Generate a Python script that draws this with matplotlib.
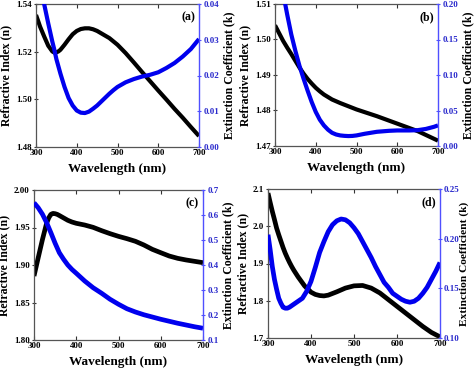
import matplotlib
matplotlib.use("Agg")
import matplotlib.pyplot as plt

plt.rcParams['font.family'] = ['Liberation Serif', 'DejaVu Serif']
plt.rcParams['font.weight'] = 'bold'

# ---------------- data ----------------
# Panel (a)
a_n_wl = [300, 305, 310, 320, 330, 340, 345, 350, 355, 360, 370, 380, 390, 400, 410, 420, 430, 440,
          450, 460, 480, 500, 520, 540, 560, 580, 600, 620, 640, 660, 680, 700]
a_n = [1.5354, 1.5330, 1.5305, 1.5264, 1.5225, 1.5201, 1.5196, 1.5197, 1.5201, 1.5208, 1.5229,
       1.5252, 1.5273, 1.5287, 1.5295, 1.5298, 1.5298, 1.5294, 1.5287, 1.5277, 1.5257, 1.5229,
       1.5194, 1.5155, 1.5115, 1.5076, 1.5037, 1.4999, 1.4960, 1.4923, 1.4884, 1.4846]
a_k_wl = [315, 320, 330, 340, 345, 350, 360, 370, 380, 390, 400, 410, 420, 430, 440, 450, 460, 470,
          480, 490, 500, 520, 540, 560, 580, 600, 620, 640, 660, 680, 700]
a_k = [0.0445, 0.0400, 0.0346, 0.0295, 0.0272, 0.0246, 0.0205, 0.0168, 0.0137, 0.0116, 0.0102,
       0.0096, 0.0095, 0.0099, 0.0107, 0.0116, 0.0127, 0.0138, 0.0149, 0.0159, 0.0168, 0.0181,
       0.0190, 0.0197, 0.0202, 0.0209, 0.0221, 0.0235, 0.0253, 0.0274, 0.0302]

# Panel (b)
b_n_wl = [300, 310, 320, 330, 340, 350, 360, 370, 380, 390, 400, 410, 420, 430, 440, 460, 480, 500,
          550, 600, 650, 700]
b_n = [1.5040, 1.5018, 1.4996, 1.4977, 1.4959, 1.4940, 1.4921, 1.4904, 1.4889, 1.4876, 1.4864,
       1.4854, 1.4845, 1.4838, 1.4831, 1.4821, 1.4812, 1.4803, 1.4784, 1.4763, 1.4742, 1.4715]
b_k_wl = [320, 325, 330, 340, 350, 360, 370, 380, 390, 400, 410, 420, 430, 440, 450, 460, 470, 480,
          490, 500, 520, 550, 580, 600, 630, 650, 670, 690, 700]
b_k = [0.215, 0.200, 0.185, 0.157, 0.134, 0.113, 0.095, 0.078, 0.062, 0.048, 0.037, 0.029, 0.023,
       0.0186, 0.0162, 0.0149, 0.0143, 0.0140, 0.0142, 0.0149, 0.0172, 0.0200, 0.0214, 0.0219,
       0.0219, 0.0223, 0.0240, 0.0270, 0.0290]

# Panel (c)
c_wl = [300, 310, 320, 330, 335, 340, 345, 350, 355, 360, 370, 380, 390, 400, 420, 440, 460, 480,
        500, 520, 540, 560, 580, 600, 620, 640, 660, 680, 700]
c_n = [1.8853, 1.9098, 1.9340, 1.9560, 1.9630, 1.9676, 1.9688, 1.9684, 1.9675, 1.9660, 1.9628,
       1.9596, 1.9573, 1.9556, 1.9533, 1.9502, 1.9458, 1.9418, 1.9382, 1.9351, 1.9316, 1.9267,
       1.9209, 1.9164, 1.9120, 1.9089, 1.9067, 1.9049, 1.9031]
c_k_wl = [300, 310, 320, 330, 340, 350, 360, 370, 380, 390, 400, 420, 440, 460, 480, 500, 520, 540,
          560, 580, 600, 620, 640, 660, 680, 700]
c_k = [0.649, 0.629, 0.603, 0.569, 0.529, 0.487, 0.449, 0.423, 0.400, 0.382, 0.367, 0.336, 0.309,
       0.287, 0.263, 0.243, 0.225, 0.212, 0.201, 0.192, 0.183, 0.175, 0.167, 0.160, 0.153, 0.147]

# Panel (d)
d_n_wl = [300, 305, 310, 315, 320, 325, 330, 335, 340, 345, 350, 355, 360, 365, 370, 375, 380, 385,
          390, 395, 400, 410, 420, 430, 440, 460, 480, 500, 520, 540, 560, 580, 600, 620, 640, 660,
          680, 700]
d_n = [2.089, 2.064, 2.040, 2.018, 1.995, 1.977, 1.960, 1.943, 1.928, 1.915, 1.903, 1.892, 1.882,
       1.873, 1.864, 1.856, 1.848, 1.840, 1.834, 1.829, 1.823, 1.817, 1.814, 1.813, 1.815, 1.824,
       1.834, 1.840, 1.841, 1.834, 1.821, 1.803, 1.785, 1.767, 1.749, 1.731, 1.715, 1.703]
d_k_wl = [300, 305, 310, 315, 320, 325, 330, 335, 340, 345, 350, 360, 370, 380, 390, 400, 410, 420,
          430, 440, 450, 460, 470, 480, 490, 500, 510, 520, 530, 540, 550, 560, 570, 580, 590, 600,
          610, 620, 630, 640, 650, 660, 670, 680, 690, 700]
d_k = [0.204, 0.189, 0.172, 0.159, 0.149, 0.140, 0.135, 0.131, 0.130, 0.130, 0.131, 0.134, 0.137,
       0.140, 0.147, 0.157, 0.171, 0.186, 0.197, 0.207, 0.214, 0.218, 0.2198, 0.219, 0.216, 0.211,
       0.205, 0.197, 0.189, 0.181, 0.172, 0.164, 0.156, 0.151, 0.145, 0.142, 0.139, 0.137, 0.136,
       0.137, 0.140, 0.145, 0.151, 0.159, 0.167, 0.176]

panels = [
    dict(tag='(a)', nwl=a_n_wl, n=a_n, kwl=a_k_wl, k=a_k, nlim=(1.48, 1.54), nticks=[1.48, 1.50, 1.52, 1.54],
         nfmt='%.2f', klim=(0.0, 0.04), kticks=[0.00, 0.01, 0.02, 0.03, 0.04], kfmt='%.2f',
         rect=[36/474, 1-147/372, 163/474, 143/372]),
    dict(tag='(b)', nwl=b_n_wl, n=b_n, kwl=b_k_wl, k=b_k, nlim=(1.47, 1.51),
         nticks=[1.47, 1.48, 1.49, 1.50, 1.51], nfmt='%.2f', klim=(0.0, 0.20),
         kticks=[0.00, 0.05, 0.10, 0.15, 0.20], kfmt='%.2f',
         rect=[275/474, 1-146/372, 163/474, 142/372]),
    dict(tag='(c)', nwl=c_wl, n=c_n, kwl=c_k_wl, k=c_k, nlim=(1.80, 2.00),
         nticks=[1.80, 1.85, 1.90, 1.95, 2.00], nfmt='%.2f', klim=(0.1, 0.7),
         kticks=[0.1, 0.2, 0.3, 0.4, 0.5, 0.6, 0.7], kfmt='%.1f',
         rect=[34/474, 1-340/372, 169/474, 150/372]),
    dict(tag='(d)', nwl=d_n_wl, n=d_n, kwl=d_k_wl, k=d_k, nlim=(1.7, 2.1),
         nticks=[1.7, 1.8, 1.9, 2.0, 2.1], nfmt='%.1f', klim=(0.10, 0.25),
         kticks=[0.10, 0.15, 0.20, 0.25], kfmt='%.2f',
         rect=[268/474, 1-338/372, 172/474, 149/372]),
]

xticks = [300, 400, 500, 600, 700]
BLUE = '#0000ee'
AXBLUE = '#5050ff'
TICKBLUE = '#2a2acc'

fig = plt.figure(figsize=(4.74, 3.72), dpi=100)
for i, p in enumerate(panels):
    ax = fig.add_axes(p['rect'])
    lw = 3.0 if i < 2 else 3.4
    ax.plot(p['nwl'], p['n'], color='black', lw=lw, solid_capstyle='butt', solid_joinstyle='round')
    ax.set_xlim(300, 700)
    ax.set_ylim(*p['nlim'])
    ax.set_xticks(xticks)
    ax.set_yticks(p['nticks'])
    ax.yaxis.set_major_formatter(matplotlib.ticker.FormatStrFormatter(p['nfmt']))
    ax.tick_params(axis='both', labelsize=6.5, length=3, width=0.8, direction='inout', pad=1.5,
                   colors='#333333', labelcolor='black')
    ax.tick_params(axis='x', top=True, direction='in')
    for s in ['left', 'bottom', 'top']:
        ax.spines[s].set_color('#555555')
        ax.spines[s].set_linewidth(0.9)
    ax.spines['right'].set_visible(False)
    ax.set_xlabel('Wavelength (nm)', fontsize=9.5, fontweight='bold', labelpad=4)
    ax.set_ylabel('Refractive Index (n)', fontsize=8.5, fontweight='bold', labelpad=2.5)
    for lab in ax.get_xticklabels() + ax.get_yticklabels():
        lab.set_fontweight('bold')

    ax2 = ax.twinx()
    ax2.plot(p['kwl'], p['k'], color=BLUE, lw=lw, solid_capstyle='butt', solid_joinstyle='round')
    ax2.set_ylim(*p['klim'])
    ax2.set_yticks(p['kticks'])
    ax2.yaxis.set_major_formatter(matplotlib.ticker.FormatStrFormatter(p['kfmt']))
    ax2.tick_params(axis='y', labelsize=6.5, length=3, width=0.8, direction='inout',
                    pad=1.0 if i == 3 else 1.5,
                    colors=AXBLUE, labelcolor=TICKBLUE)
    ax2.spines['right'].set_color(AXBLUE)
    ax2.spines['right'].set_linewidth(1.0)
    for s in ['left', 'bottom', 'top']:
        ax2.spines[s].set_visible(False)
    ax2.set_ylabel('Extinction Coefficient (k)', fontsize=8.5 if i < 3 else 8.2, fontweight='bold',
                   labelpad=0.3 if i == 3 else 3)
    for lab in ax2.get_yticklabels():
        lab.set_fontweight('bold')
    ax2.text(0.975, 0.95, p['tag'], transform=ax2.transAxes, ha='right', va='top',
             fontsize=8.5, fontweight='bold')

fig.savefig('out.png', dpi=100)
